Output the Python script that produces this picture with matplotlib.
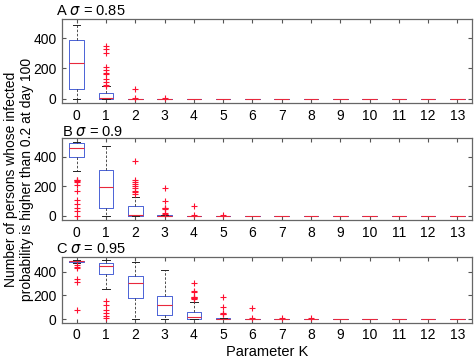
import matplotlib.pyplot as plt
import numpy as np

plt.rcParams['font.family'] = ['Liberation Sans', 'DejaVu Sans']
plt.rcParams['mathtext.fontset'] = 'dejavusans'

K = list(range(14))

# panel A, sigma = 0.85
a_med = [235, 5, 0, 0, 0, 0, 0, 0, 0, 0, 0, 0, 0, 0]
a_q1 = [65, 0, 0, 0, 0, 0, 0, 0, 0, 0, 0, 0, 0, 0]
a_q3 = [385, 35, 0, 0, 0, 0, 0, 0, 0, 0, 0, 0, 0, 0]
a_lo = [0, 0, 0, 0, 0, 0, 0, 0, 0, 0, 0, 0, 0, 0]
a_hi = [490, 80, 0, 0, 0, 0, 0, 0, 0, 0, 0, 0, 0, 0]
a_fl = [[], [350, 330, 305, 210, 190, 170, 165, 130, 110, 90, 85],
        [65, 3], [3], [], [], [], [], [], [], [], [], [], []]

# panel B, sigma = 0.9
b_med = [460, 195, 8, 0, 0, 0, 0, 0, 0, 0, 0, 0, 0, 0]
b_q1 = [395, 55, 0, 0, 0, 0, 0, 0, 0, 0, 0, 0, 0, 0]
b_q3 = [490, 310, 65, 3, 0, 0, 0, 0, 0, 0, 0, 0, 0, 0]
b_lo = [300, 0, 0, 0, 0, 0, 0, 0, 0, 0, 0, 0, 0, 0]
b_hi = [500, 475, 130, 8, 0, 0, 0, 0, 0, 0, 0, 0, 0, 0]
b_fl = [[245, 240, 235, 225, 210, 165, 105, 80, 55, 30, 0],
        [],
        [370, 240, 225, 215, 200, 185, 165, 160, 150],
        [185, 100, 55, 50, 45, 20, 10],
        [65, 3], [3], [], [], [], [], [], [], [], []]

# panel C, sigma = 0.95
c_med = [490, 450, 305, 115, 15, 2, 0, 0, 0, 0, 0, 0, 0, 0]
c_q1 = [485, 380, 180, 32, 2, 0, 0, 0, 0, 0, 0, 0, 0, 0]
c_q3 = [493, 477, 367, 195, 60, 5, 0, 0, 0, 0, 0, 0, 0, 0]
c_lo = [475, 250, 0, 0, 0, 0, 0, 0, 0, 0, 0, 0, 0, 0]
c_hi = [500, 500, 480, 412, 145, 12, 0, 0, 0, 0, 0, 0, 0, 0]
c_fl = [[460, 440, 430, 340, 315, 72],
        [150, 120, 80, 55, 25, 5],
        [], [],
        [305, 240, 225, 190, 185, 180, 175, 170],
        [185, 100, 50, 45, 40],
        [90, 5], [5], [5], [], [], [], [], []]

panels = [
    ('A', '0.85', a_med, a_q1, a_q3, a_lo, a_hi, a_fl),
    ('B', '0.9', b_med, b_q1, b_q3, b_lo, b_hi, b_fl),
    ('C', '0.95', c_med, c_q1, c_q3, c_lo, c_hi, c_fl),
]

fig = plt.figure(figsize=(4.74, 3.58), dpi=100)
rects = [[0.131, 0.712, 0.865, 0.235],
         [0.131, 0.385, 0.865, 0.230],
         [0.131, 0.099, 0.865, 0.184]]
title_x = [-0.016, 0.0, -0.016]
title_dy = [5.5, 4.3, 5.8]

blue = '#4a62d6'
red = '#e8283c'

for i, (letter, sig, med, q1, q3, lo, hi, fl) in enumerate(panels):
    ax = fig.add_axes(rects[i])
    stats = [dict(med=med[k], q1=q1[k], q3=q3[k], whislo=lo[k], whishi=hi[k], fliers=fl[k])
             for k in K]
    ax.bxp(stats, positions=K, widths=0.5, showfliers=True,
           boxprops=dict(color=blue, lw=0.7),
           medianprops=dict(color=red, lw=0.8, zorder=4),
           whiskerprops=dict(color='#333333', lw=0.6, ls=(0, (3, 2))),
           capprops=dict(color='#222222', lw=0.7),
           flierprops=dict(marker='+', markeredgecolor='#ff1030', markersize=5, markeredgewidth=0.8))
    ax.set_xlim(-0.5, 13.5)
    ax.set_ylim(-30, 527)
    ax.set_xticks(K)
    ax.set_xticklabels([str(k) for k in K])
    ax.set_yticks([0, 200, 400])
    ax.tick_params(direction='in', top=True, right=True, length=3, labelsize=10,
                   color='#555555', pad=4)
    for s in ax.spines.values():
        s.set_color('#666666')
        s.set_linewidth(0.9)
    ax.annotate(letter + ' $\\sigma$ = ' + sig, xy=(title_x[i], 1), xycoords='axes fraction',
                xytext=(0, title_dy[i]), textcoords='offset points', ha='left', va='center',
                fontsize=10.5)

fig.text(0.04, 0.5, 'Number of persons whose infected\nprobability is higher than 0.2 at day 100',
         rotation=90, ha='center', va='center', fontsize=10, linespacing=1.15)
fig.text(0.563, 0.018, 'Parameter K', ha='center', va='center', fontsize=10.5)

plt.savefig('out.png', dpi=100)
